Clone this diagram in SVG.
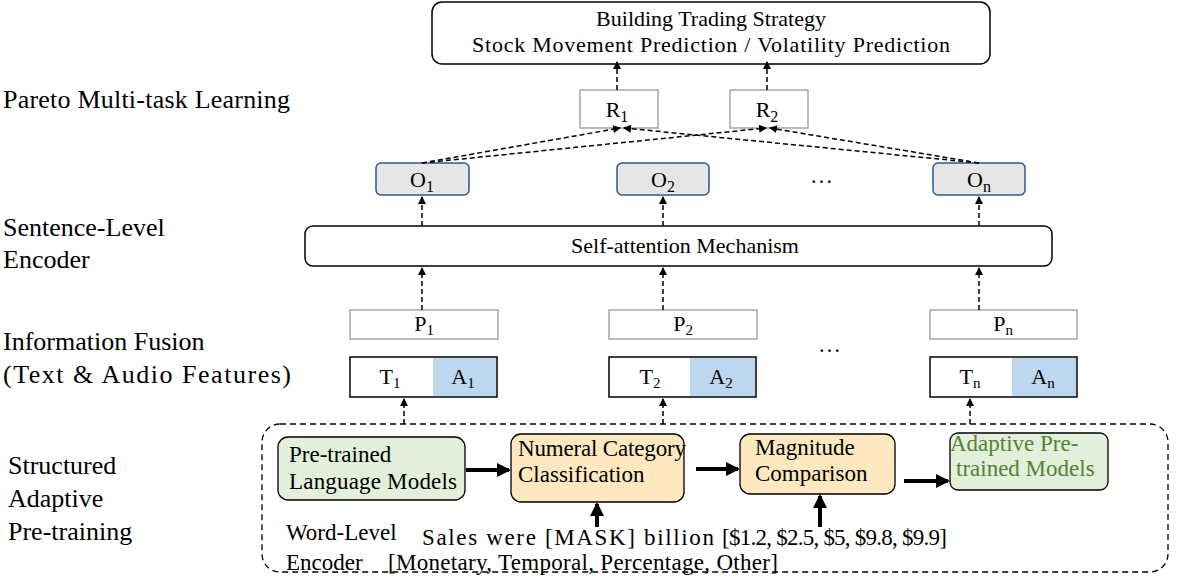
<svg xmlns="http://www.w3.org/2000/svg" width="1177" height="578" viewBox="0 0 1177 578">
<style>
text{font-family:"Liberation Serif",serif;fill:#000}
.lab{font-size:26px}
.t{font-size:23px}
.n{font-size:22px;text-anchor:middle}
.dash{stroke:#000;stroke-width:1.5;stroke-dasharray:5,3;fill:none;marker-end:url(#ah)}
.thick{stroke:#000;stroke-width:4;fill:none;marker-end:url(#bh)}
.grn{fill:#e2efda;stroke:#000;stroke-width:1.3}
.org{fill:#fde8c0;stroke:#000;stroke-width:1.3}
.gb{fill:#e6e6e6;stroke:#2f5597;stroke-width:1.5}
.wb{fill:#fff;stroke:#a6a6a6;stroke-width:1.5}
.bx{fill:#fff;stroke:#000;stroke-width:1.5}
</style>
<defs>
<marker id="ah" markerWidth="8" markerHeight="8" refX="7" refY="4" orient="auto" markerUnits="userSpaceOnUse"><path d="M0,0L8,4L0,8z" fill="#000"/></marker>
<marker id="bh" markerWidth="14" markerHeight="14" refX="12" refY="7" orient="auto" markerUnits="userSpaceOnUse"><path d="M0,0L14,7L0,14z" fill="#000"/></marker>
</defs>
<g id="labels">
<text class="lab" x="3" y="108" textLength="287">Pareto Multi-task Learning</text>
<text class="lab" x="3" y="236">Sentence-Level</text>
<text class="lab" x="3" y="268">Encoder</text>
<text class="lab" x="3" y="350">Information Fusion</text>
<text class="lab" x="3" y="383" textLength="288">(Text &amp; Audio Features)</text>
<text class="lab" x="8" y="474">Structured</text>
<text class="lab" x="8" y="507">Adaptive</text>
<text class="lab" x="8" y="540">Pre-training</text>
<text class="t" x="286" y="540">Word-Level</text>
<text class="t" x="286" y="570">Encoder</text>
<text class="t" x="422" y="545" textLength="292">Sales were [MASK] billion</text>
<text class="t" x="722" y="545" textLength="225">[$1.2, $2.5, $5, $9.8, $9.9]</text>
<text class="t" x="388" y="570" textLength="390">[Monetary, Temporal, Percentage, Other]</text>
<text class="t" x="810" y="183">…</text>
<text class="t" x="818" y="352">…</text>
</g>
<g id="top"><rect class="bx" x="432" y="2" width="558" height="62" rx="10"/>
<text class="n" x="711" y="26">Building Trading Strategy</text>
<text class="n" x="711" y="52" textLength="478">Stock Movement Prediction / Volatility Prediction</text></g>
<g id="R1"><rect class="wb" x="580" y="90" width="78" height="38"/><text class="n" x="617" y="117">R<tspan font-size="16" dy="5">1</tspan></text></g>
<g id="R2"><rect class="wb" x="730" y="90" width="78" height="38"/><text class="n" x="767" y="117">R<tspan font-size="16" dy="5">2</tspan></text></g>
<g id="O1"><rect class="gb" x="376" y="163" width="93" height="32" rx="5"/><text class="n" x="422" y="187">O<tspan font-size="16" dy="5">1</tspan></text></g>
<g id="O2"><rect class="gb" x="617" y="163" width="92" height="32" rx="5"/><text class="n" x="663" y="187">O<tspan font-size="16" dy="5">2</tspan></text></g>
<g id="On"><rect class="gb" x="933" y="163" width="92" height="32" rx="5"/><text class="n" x="979" y="187">O<tspan font-size="16" dy="5">n</tspan></text></g>
<g id="sa"><rect class="bx" x="305" y="226" width="747" height="40" rx="8"/><text class="n" x="685" y="253">Self-attention  Mechanism</text></g>
<g id="P1"><rect class="wb" x="350" y="310" width="148" height="29"/><text class="n" x="424" y="331">P<tspan font-size="15" dy="4">1</tspan></text></g>
<g id="P2"><rect class="wb" x="609" y="310" width="148" height="29"/><text class="n" x="683" y="331">P<tspan font-size="15" dy="4">2</tspan></text></g>
<g id="Pn"><rect class="wb" x="930" y="310" width="147" height="29"/><text class="n" x="1003" y="331">P<tspan font-size="15" dy="4">n</tspan></text></g>
<g id="TA1"><rect class="bx" x="350" y="357" width="147" height="40"/><rect x="433" y="358" width="63" height="38" fill="#bdd7ee"/><text class="n" x="390" y="384">T<tspan font-size="15" dy="4">1</tspan></text><text class="n" x="463" y="384">A<tspan font-size="15" dy="4">1</tspan></text></g>
<g id="TA2"><rect class="bx" x="609" y="357" width="147" height="40"/><rect x="690" y="358" width="65" height="38" fill="#bdd7ee"/><text class="n" x="650" y="384">T<tspan font-size="15" dy="4">2</tspan></text><text class="n" x="721" y="384">A<tspan font-size="15" dy="4">2</tspan></text></g>
<g id="TAn"><rect class="bx" x="930" y="357" width="147" height="40"/><rect x="1012" y="358" width="64" height="38" fill="#bdd7ee"/><text class="n" x="970" y="384">T<tspan font-size="15" dy="4">n</tspan></text><text class="n" x="1043" y="384">A<tspan font-size="15" dy="4">n</tspan></text></g>
<g id="region"><rect x="262" y="424" width="906" height="148" rx="18" fill="none" stroke="#000" stroke-width="1.3" stroke-dasharray="6,4"/></g>
<g id="plm"><rect class="grn" x="278" y="437" width="187" height="63" rx="10"/><text class="t" x="289" y="462">Pre-trained</text><text class="t" x="289" y="489" textLength="168">Language Models</text></g>
<g id="ncc"><rect class="org" x="511" y="434" width="173" height="68" rx="10"/><text class="t" x="518" y="456" textLength="168">Numeral Category</text><text class="t" x="518" y="482">Classification</text></g>
<g id="mc"><rect class="org" x="740" y="434" width="155" height="60" rx="10"/><text class="t" x="755" y="455">Magnitude</text><text class="t" x="755" y="481">Comparison</text></g>
<g id="apm"><rect class="grn" x="950" y="433" width="158" height="57" rx="8"/><text class="t" x="950" y="451" style="fill:#548235">Adaptive Pre-</text><text class="t" x="956" y="476" style="fill:#548235">trained Models</text></g>
<g id="connectors">
<path class="dash" d="M617,90V62"/><path class="dash" d="M767,90V62"/>
<path class="dash" d="M422,163L620,128"/><path class="dash" d="M422,163L766,128"/>
<path class="dash" d="M979,163L624,128"/><path class="dash" d="M979,163L770,128"/>
<path class="dash" d="M422,226V197"/><path class="dash" d="M663,226V197"/><path class="dash" d="M979,226V197"/>
<path class="dash" d="M422,310V268"/><path class="dash" d="M663,310V268"/><path class="dash" d="M979,310V268"/>
<path class="dash" d="M404,424V399"/><path class="dash" d="M663,424V399"/><path class="dash" d="M970,424V399"/>
<path class="thick" d="M466,470H509"/><path class="thick" d="M696,469H738"/><path class="thick" d="M904,481H948"/>
<path class="thick" d="M597,527V504"/><path class="thick" d="M820,527V496"/>
</g>
</svg>
